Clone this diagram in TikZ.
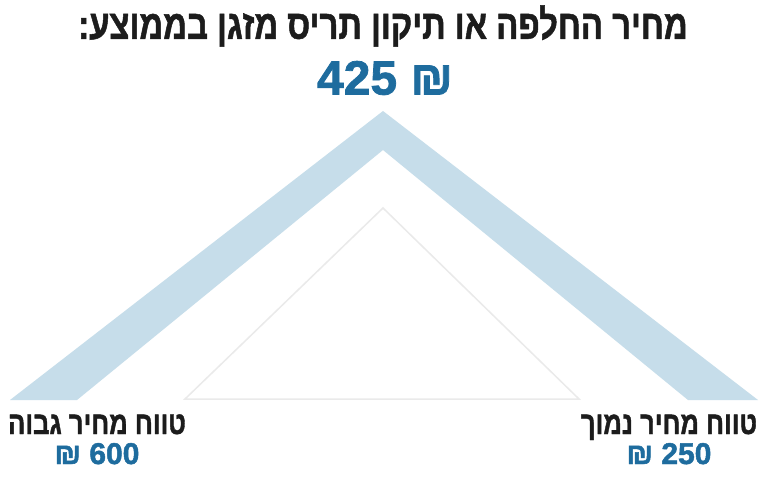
\documentclass[tikz,border=0pt]{standalone}
\usepackage{fontspec}
\setmainfont{Liberation Sans}
\newfontfamily\condfont{Liberation Sans Bold}[Script=Hebrew, FakeStretch=0.8, FakeBold=1.2]
\newfontfamily\pricefont{Liberation Sans Bold}[FakeBold=1.6]
\TeXXeTstate=1
\usetikzlibrary{positioning}
\definecolor{bandblue}{RGB}{198,221,234}
\definecolor{priceblue}{RGB}{30,108,158}
\definecolor{textdark}{RGB}{28,28,28}
\definecolor{faintgray}{RGB}{234,234,234}
\tikzstyle{heading} = [font=\condfont\fontsize{41}{46}\selectfont, text=textdark, inner sep=0pt]
\tikzstyle{bigprice} = [font=\pricefont\fontsize{48}{54}\selectfont, text=priceblue, inner sep=0pt]
\tikzstyle{rangelabel} = [font=\condfont\fontsize{32}{38}\selectfont, text=textdark, inner sep=0pt, anchor=base]
\tikzstyle{price} = [font=\pricefont\fontsize{30}{36}\selectfont, text=priceblue, inner sep=0pt, anchor=base]
\tikzstyle{band} = [fill=bandblue, draw=none]
\tikzstyle{outline} = [draw=faintgray, line width=1.5pt, line join=miter]

\begin{document}
\begin{tikzpicture}[x=1pt, y=-1pt]
      \useasboundingbox (0,0) rectangle (768,480);
      \fill[white] (0,0) rectangle (768,480);
      % chevron
      \coordinate (outl) at (10,400);
      \coordinate (outtop) at (383,111);
      \coordinate (outr) at (758,400);
      \coordinate (inr) at (688,400);
      \coordinate (intop) at (383,150);
      \coordinate (inl) at (77,400);
      \fill [band] (outl) -- (outtop) -- (outr) -- (inr) -- (intop) -- (inl) -- cycle;
      % inner triangle
      \coordinate (tril) at (185,399);
      \coordinate (tritop) at (383,208);
      \coordinate (trir) at (579,399);
      \draw [outline] (tril) -- (tritop) -- (trir) -- cycle;
      % texts
      \node (titel) [heading] at (383,26) {\beginR מחיר החלפה או תיקון תריס מזגן בממוצע:\endR};
      \node (avg) [bigprice] at (385,78) {425 ₪};
      \node (high) [rangelabel] at (97,434) {\beginR טווח מחיר גבוה\endR};
      \node (highval) [price] at ([yshift=-30pt]high.base) {₪ 600};
      \node (low) [rangelabel] at (669,434) {\beginR טווח מחיר נמוך\endR};
      \node (lowval) [price] at ([yshift=-30pt]low.base) {₪ 250};
    \end{tikzpicture}
\end{document}
